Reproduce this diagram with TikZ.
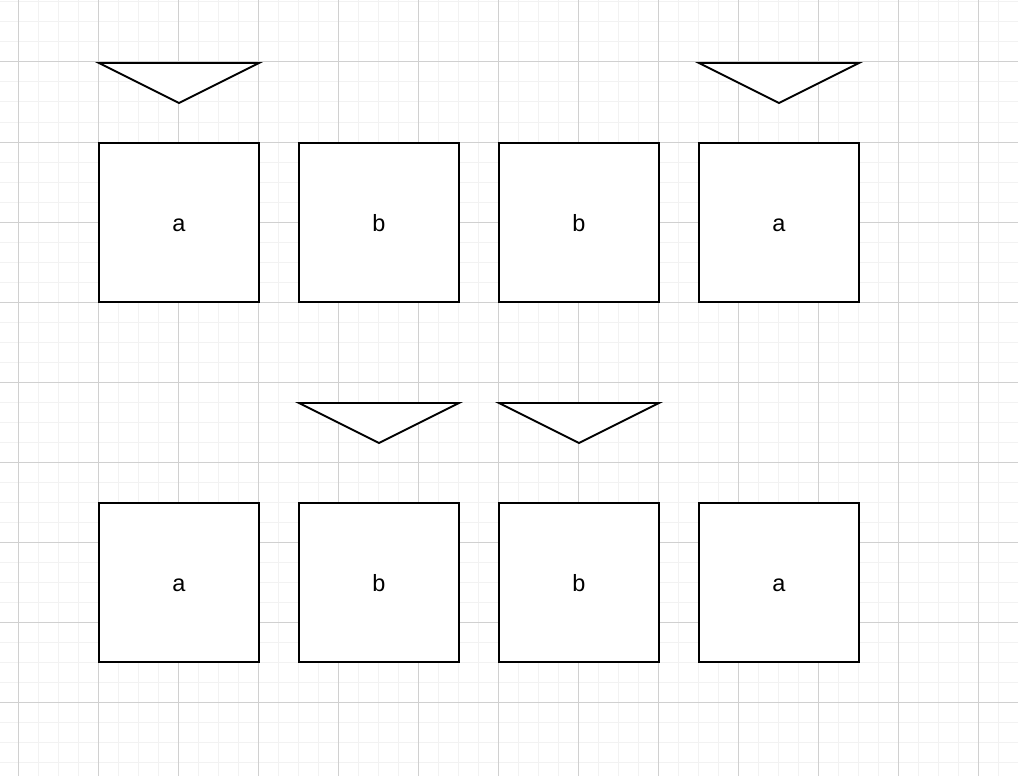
\documentclass[tikz,border=0pt]{standalone}
\usepackage{fontspec}
\setmainfont{Liberation Sans}
\begin{document}
\begin{tikzpicture}[x=1pt,y=-1pt,
  boxnode/.style={draw=black,line width=1.8pt,fill=white,minimum width=160pt,minimum height=159pt,inner sep=0pt,outer sep=0pt,text height=17pt,text depth=0pt,font=\fontsize{23.5}{26}\selectfont,anchor=north west},
  tri/.style={draw=black,line width=1.8pt,fill=white,line join=miter}]
\useasboundingbox (0,0) rectangle (1018,776);
\fill[white] (0,0) rectangle (1018,776);
% minor grid
\foreach \x in {-2,18,...,1018} \draw[line width=1pt,color={rgb,255:red,242;green,242;blue,242}] (\x,0) -- (\x,776);
\foreach \y in {2,22,...,776} \draw[line width=1pt,color={rgb,255:red,242;green,242;blue,242}] (0,\y) -- (1018,\y);
% major grid
\foreach \x in {18,98,...,1018} \draw[line width=1pt,color={rgb,255:red,208;green,208;blue,208}] (\x,0) -- (\x,776);
\foreach \y in {62,142,...,776} \draw[line width=1pt,color={rgb,255:red,208;green,208;blue,208}] (0,\y) -- (1018,\y);
% top row
\node[boxnode] (a1) at (99,143) {a};
\node[boxnode] (b1) at (299,143) {b};
\node[boxnode] (b2) at (499,143) {b};
\node[boxnode] (a2) at (699,143) {a};
% bottom row
\node[boxnode] (a3) at (99,503) {a};
\node[boxnode] (b3) at (299,503) {b};
\node[boxnode] (b4) at (499,503) {b};
\node[boxnode] (a4) at (699,503) {a};
% triangles
\draw[tri] (99,63) -- (259,63) -- (179,103) -- cycle;
\draw[tri] (699,63) -- (859,63) -- (779,103) -- cycle;
\draw[tri] (299,403) -- (459,403) -- (379,443) -- cycle;
\draw[tri] (499,403) -- (659,403) -- (579,443) -- cycle;
\end{tikzpicture}
\end{document}
